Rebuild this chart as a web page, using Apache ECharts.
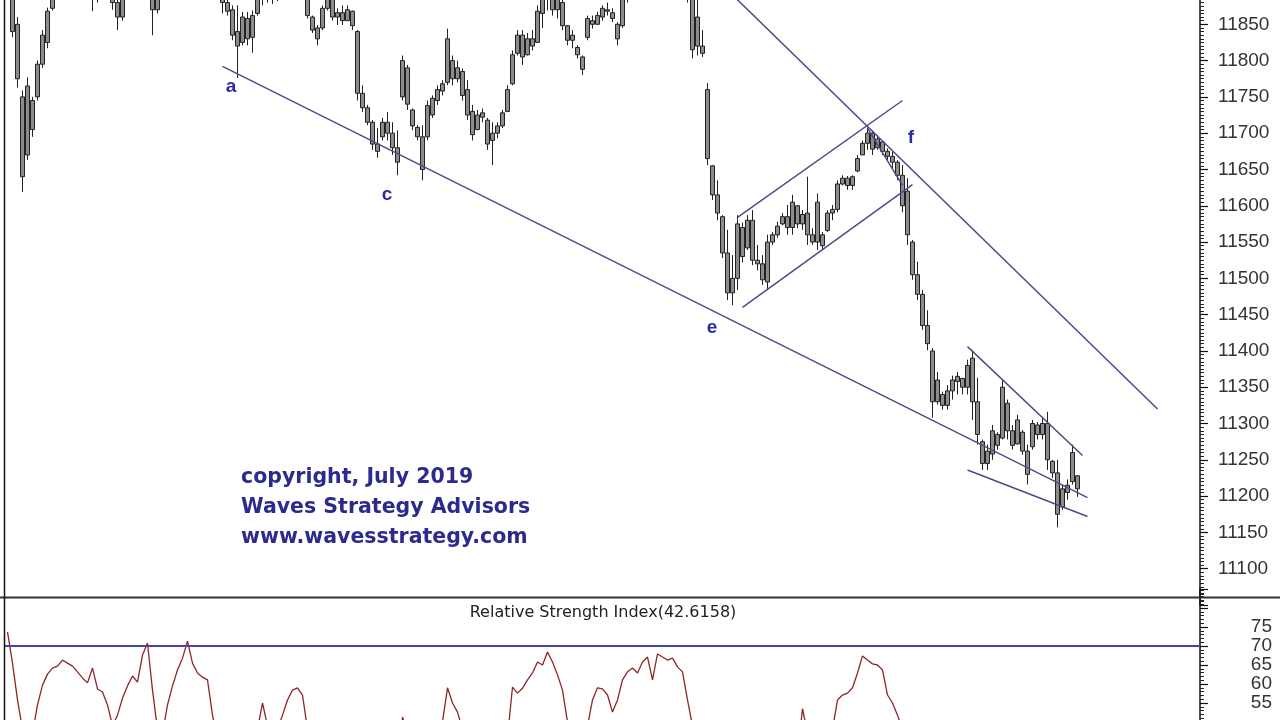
<!DOCTYPE html>
<html>
<head>
<meta charset="utf-8">
<script src="https://cdn.jsdelivr.net/npm/echarts/dist/echarts.min.js"></script>
<style>html,body{margin:0;padding:0;background:#fff;}#chart{width:1280px;height:720px;}</style>
</head>
<body>
<div id="chart"></div>
<script>
// ---- DATA ----
// hourly bars (index only, no time labels visible in the picture)
const categories = Array.from({length: 239}, (_, i) => 'h' + i);

// price bars: [open, close, low, high]
const bars = [
[11930,11905,11890,11940],[11895,11840,11832,11905],[11850,11775,11763,11860],[11750,11640,11619,11759],[11670,11765,11663,11777],
[11745,11705,11695,11750],[11750,11795,11745,11800],[11795,11835,11790,11842],[11825,11868,11817,11873],[11872,11900,11869,11905],
[11900,11920,11895,11928],[11920,11935,11910,11945],[11935,11925,11915,11948],[11925,11940,11918,11950],[11940,11930,11920,11946],
[11930,11912,11900,11936],[11912,11900,11892,11920],[11900,11885,11868,11905],[11885,11905,11880,11912],[11905,11915,11898,11925],
[11915,11900,11890,11922],[11900,11880,11870,11906],[11880,11860,11842,11890],[11860,11895,11855,11900],[11895,11915,11890,11922],
[11915,11930,11908,11938],[11930,11922,11912,11940],[11922,11910,11900,11930],[11910,11895,11888,11918],[11895,11870,11835,11900],
[11870,11900,11865,11908],[11900,11925,11895,11932],[11925,11945,11918,11955],[11945,11960,11938,11968],[11960,11955,11945,11972],
[11955,11970,11948,11980],[11970,11985,11962,11995],[11985,11965,11958,11990],[11965,11960,11950,11975],[11960,11958,11945,11970],
[11958,11950,11940,11966],[11950,11925,11915,11955],[11925,11900,11890,11930],[11900,11880,11865,11910],[11880,11868,11862,11895],
[11870,11835,11828,11876],[11840,11820,11776,11876],[11825,11860,11821,11867],[11858,11830,11821,11867],[11832,11862,11811,11869],
[11865,11885,11862,11890],[11885,11895,11876,11900],[11895,11890,11880,11910],[11890,11885,11878,11902],[11885,11900,11882,11910],
[11900,11915,11895,11922],[11915,11925,11908,11932],[11925,11930,11915,11938],[11930,11918,11905,11935],[11918,11900,11888,11922],
[11890,11862,11858,11895],[11860,11842,11838,11862],[11845,11830,11821,11849],[11845,11872,11842,11876],[11872,11890,11869,11895],
[11888,11860,11855,11892],[11860,11866,11849,11872],[11866,11855,11849,11876],[11855,11870,11855,11876],[11868,11848,11842,11869],
[11840,11755,11745,11842],[11755,11735,11729,11766],[11735,11715,11711,11739],[11715,11685,11677,11718],[11685,11675,11666,11707],
[11695,11715,11690,11721],[11715,11700,11690,11729],[11700,11680,11670,11715],[11680,11660,11642,11704],[11750,11800,11745,11807],
[11790,11740,11732,11794],[11732,11710,11704,11734],[11708,11695,11690,11711],[11695,11650,11635,11711],[11695,11738,11690,11745],
[11725,11748,11721,11752],[11745,11760,11739,11766],[11758,11768,11752,11773],[11770,11830,11766,11844],[11800,11775,11766,11807],
[11775,11790,11770,11800],[11785,11752,11745,11789],[11760,11725,11718,11773],[11730,11698,11690,11739],[11705,11725,11704,11732],
[11722,11728,11715,11734],[11718,11685,11677,11721],[11690,11700,11656,11715],[11700,11710,11693,11715],[11710,11728,11707,11732],
[11730,11760,11729,11766],[11768,11808,11766,11814],[11810,11835,11807,11842],[11835,11805,11794,11842],[11808,11830,11807,11838],
[11830,11820,11814,11842],[11825,11868,11825,11876],[11865,11885,11845,11890],[11885,11895,11869,11905],[11895,11870,11862,11900],
[11870,11885,11858,11895],[11880,11848,11842,11885],[11848,11828,11821,11849],[11828,11835,11817,11842],[11818,11808,11803,11821],
[11805,11788,11780,11807],[11832,11858,11828,11862],[11855,11850,11844,11862],[11850,11862,11849,11867],[11860,11872,11855,11876],
[11870,11868,11862,11880],[11866,11858,11853,11872],[11850,11830,11821,11853],[11848,11885,11845,11890],[11885,11900,11880,11908],
[11900,11915,11892,11922],[11915,11910,11900,11925],[11910,11925,11905,11932],[11925,11935,11918,11942],[11935,11915,11905,11940],
[11915,11935,11912,11945],[11935,11938,11925,11948],[11938,11932,11922,11945],[11932,11940,11925,11950],[11940,11925,11915,11945],
[11925,11915,11905,11930],[11915,11890,11880,11920],[11890,11815,11803,11900],[11860,11820,11807,11895],[11820,11810,11805,11842],
[11760,11665,11656,11769],[11655,11615,11608,11656],[11615,11590,11580,11635],[11585,11535,11528,11587],[11535,11480,11470,11567],
[11480,11500,11463,11532],[11500,11575,11484,11587],[11570,11530,11522,11577],[11542,11580,11539,11587],[11580,11525,11518,11594],
[11525,11520,11511,11546],[11520,11498,11491,11532],[11495,11550,11484,11560],[11550,11560,11546,11564],[11560,11572,11556,11578],
[11575,11585,11573,11590],[11585,11570,11560,11601],[11570,11605,11560,11615],[11600,11575,11569,11601],[11575,11588,11567,11594],
[11590,11560,11546,11640],[11560,11550,11546,11569],[11550,11605,11539,11617],[11560,11545,11539,11564],[11566,11590,11564,11594],
[11590,11595,11580,11601],[11595,11630,11591,11635],[11630,11638,11628,11642],[11638,11628,11622,11641],[11628,11640,11622,11642],
[11648,11665,11646,11670],[11670,11686,11670,11690],[11686,11700,11677,11708],[11700,11678,11670,11704],[11680,11692,11677,11697],
[11688,11675,11670,11688],[11675,11668,11663,11679],[11668,11660,11652,11674],[11660,11642,11635,11663],[11642,11600,11591,11656],
[11620,11560,11546,11638],[11550,11505,11498,11553],[11505,11478,11470,11523],[11478,11435,11429,11484],[11435,11410,11401,11456],
[11400,11330,11308,11404],[11330,11360,11326,11371],[11340,11325,11319,11344],[11325,11345,11319,11353],[11345,11360,11333,11366],
[11358,11365,11340,11371],[11362,11350,11340,11363],[11350,11380,11340,11388],[11390,11330,11305,11401],[11330,11285,11271,11363],
[11275,11245,11236,11278],[11245,11262,11236,11271],[11258,11290,11250,11298],[11285,11270,11264,11288],[11280,11350,11278,11360],
[11328,11290,11278,11333],[11290,11270,11264,11298],[11272,11305,11271,11312],[11288,11262,11257,11291],[11262,11230,11216,11271],
[11268,11300,11264,11305],[11298,11285,11278,11302],[11285,11300,11278,11308],[11300,11250,11236,11316],[11248,11232,11225,11250],
[11232,11175,11157,11250],[11185,11210,11181,11216],[11205,11215,11195,11223],[11220,11260,11216,11271],[11228,11210,11199,11229]
];

// RSI values, one per bar
const rsi = [
73.7,65.5,55.8,48,45,47,54.5,59.7,62.6,64.2,
64.7,66.3,65.5,64.7,63.2,61.6,60.3,64.2,58.7,57.9,
54.5,49,51.8,56.3,59.5,62.1,60.5,67.6,70.8,58.4,
48,47,54.5,59.5,63.7,66.8,71.3,65.5,62.9,61.8,
61.1,51.8,45,40,37,33,35,38,41,44,
48,55,49,47,48,51.8,55.8,58.4,59,57.1,
48,45,43,46,48,47,46,47,46,44,
37,33,30,27,26,29,31,30,28,51.3,
47,40,37,35,40,43,47,50,59,55,
52.6,48,44,38,39,40,36,34,37,41,
46,59.2,57.6,58.9,61.1,62.9,65.8,65,68.4,65.8,
62.4,58.4,50,48,45,42,49,55.8,59,58.7,
57.1,52.6,55.8,61.1,63.2,64.2,62.9,65.8,67.1,61.1,
67.9,67.1,66.3,66.8,64.5,63.2,55.8,49,47,44,
33,28,25,22,20,19,26,28,31,32,
30,28,29,34,36,38,40,42,41,53.5,
47,45,47,44,46,48,55.8,57.1,57.6,59,
62.9,67.4,66.3,65.3,65,63.7,57.1,55,51.8,48,
42,36,31,27,24,20,22,21,23,25,
27,28,31,33,27,22,23,26,27,36,
34,31,33,31,28,33,34,35,36,30,
27,30,33,44,42.6158
];
const rsiLast = 42.6158;
const rsiLevel = 70;

// trend lines: [bar index, price]
const supportLine    = [[43, 11792], [216, 11198]];
const resistanceLine = [[140, 11924], [230, 11320]];
const channelUpper   = [[146, 11584], [179, 11745]];
const channelLower   = [[147, 11460], [181, 11629]];
const fDownLine      = [[172, 11707], [179, 11628]];
const wedgeUpper     = [[192, 11406], [215, 11256]];
const wedgeLower     = [[192, 11236], [216, 11172]];

// wave labels
const waveLabels = ['a', 'c', 'e', 'f'];
const copyrightLines = ['copyright, July 2019', 'Waves Strategy Advisors', 'www.wavesstrategy.com'];

// ---- CHART ----
const FONT = '"Liberation Sans", Arial, sans-serif';
const WIDE = '"DejaVu Sans", Verdana, sans-serif';
const chart = echarts.init(document.getElementById('chart'), null, {renderer: 'canvas'});

function trend(data) {
  return {
    type: 'line', xAxisIndex: 0, yAxisIndex: 0, data: data,
    symbol: 'none', silent: true, z: 3,
    lineStyle: {color: '#4c4c88', width: 1.5}
  };
}

const labelPos = {a: [231, 87], c: [387, 195], e: [712, 328], f: [911, 138]};

const graphics = [];
waveLabels.forEach(l => {
  graphics.push({type: 'text', x: labelPos[l][0], y: labelPos[l][1], z: 50,
    style: {text: l, fill: '#2c2c9c', font: 'bold 19px ' + FONT, textAlign: 'center', textVerticalAlign: 'middle'}});
});
copyrightLines.forEach((t, i) => {
  graphics.push({type: 'text', x: 241, y: 478 + i * 30, z: 50,
    style: {text: t, fill: '#2b2b8e', font: 'bold 20.5px ' + WIDE, textAlign: 'left', textVerticalAlign: 'middle'}});
});
graphics.push({type: 'text', x: 603, y: 613, z: 50,
  style: {text: 'Relative Strength Index(' + rsiLast.toFixed(4) + ')', fill: '#222', font: '16px ' + WIDE, textAlign: 'center', textVerticalAlign: 'middle'}});
graphics.push({type: 'line', z: 60, shape: {x1: 0, y1: 597.5, x2: 1280, y2: 597.5}, style: {stroke: '#333', lineWidth: 2}});
graphics.push({type: 'line', z: 60, shape: {x1: 4.5, y1: 0, x2: 4.5, y2: 720}, style: {stroke: '#111', lineWidth: 1.5}});

const option = {
  animation: false,
  backgroundColor: '#ffffff',
  grid: [
    {left: 5, right: 80, top: -12, height: 617, outerBoundsMode: 'none', containLabel: false},
    {left: 5, right: 80, top: 589, height: 323, outerBoundsMode: 'none', containLabel: false}
  ],
  xAxis: [
    {type: 'category', gridIndex: 0, data: categories, show: false, boundaryGap: true},
    {type: 'category', gridIndex: 1, data: categories, show: false, boundaryGap: true}
  ],
  yAxis: [
    {
      type: 'value', gridIndex: 0, position: 'right', min: 11050, max: 11900, interval: 50,
      axisLine: {show: true, lineStyle: {color: '#111', width: 1.5}},
      axisTick: {show: true, length: 8, lineStyle: {color: '#111', width: 1.2}},
      minorTick: {show: true, splitNumber: 10, length: 4, lineStyle: {color: '#222'}},
      splitLine: {show: false},
      axisLabel: {margin: 18, fontSize: 19, color: '#333', fontFamily: FONT,
        formatter: v => (v < 11100 || v > 11850) ? '' : String(v)}
    },
    {
      type: 'value', gridIndex: 1, position: 'right', min: 0, max: 85, interval: 5,
      axisLine: {show: true, lineStyle: {color: '#111', width: 1.5}},
      axisTick: {show: true, length: 8, lineStyle: {color: '#111', width: 1.2}},
      minorTick: {show: true, splitNumber: 5, length: 4, lineStyle: {color: '#222'}},
      splitLine: {show: false},
      axisLabel: {margin: 72, align: 'right', fontSize: 19, color: '#333', fontFamily: FONT,
        formatter: v => (v > 75 || v < 55) ? '' : String(v)}
    }
  ],
  series: [
    {
      type: 'candlestick', xAxisIndex: 0, yAxisIndex: 0, data: bars, barWidth: 4,
      itemStyle: {color: '#8c8c8c', color0: '#8c8c8c', borderColor: '#222', borderColor0: '#222', borderWidth: 1},
      z: 2
    },
    trend(supportLine), trend(resistanceLine), trend(channelUpper), trend(channelLower),
    trend(fDownLine), trend(wedgeUpper), trend(wedgeLower),
    {
      type: 'line', xAxisIndex: 1, yAxisIndex: 1, data: rsi, symbol: 'none',
      lineStyle: {color: '#8e2626', width: 1.3},
      markLine: {
        silent: true, symbol: 'none', label: {show: false},
        lineStyle: {color: '#4646a0', width: 2, type: 'solid'},
        data: [{yAxis: rsiLevel}]
      }
    }
  ],
  graphic: graphics
};
chart.setOption(option);
</script>
</body>
</html>
